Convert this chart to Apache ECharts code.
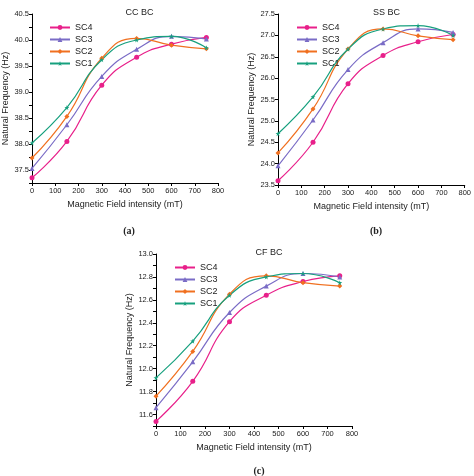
<!DOCTYPE html>
<html><head><meta charset="utf-8">
<script src="https://cdn.jsdelivr.net/npm/echarts@6/dist/echarts.min.js"></script>
<style>html,body{margin:0;background:#fff}#myChart{width:474px;height:476px}</style>
</head><body><div id="myChart"></div>
<script>
const field = [0, 150, 300, 450, 600, 750]
const seriesNames = ['SC4', 'SC3', 'SC2', 'SC1']
// CC BC
const ccSC4 = [37.35, 38.05, 39.13, 39.67, 39.92, 40.05]
const ccSC3 = [37.53, 38.37, 39.30, 39.82, 40.07, 40.02]
const ccSC2 = [37.73, 38.53, 39.65, 40.03, 39.90, 39.83]
const ccSC1 = [38.02, 38.70, 39.62, 40.00, 40.07, 39.85]
// SS BC
const ssSC4 = [23.60, 24.50, 25.87, 26.53, 26.85, 27.02]
const ssSC3 = [23.95, 25.02, 26.20, 26.83, 27.15, 27.07]
const ssSC2 = [24.25, 25.28, 26.68, 27.15, 26.99, 26.90]
const ssSC1 = [24.70, 25.56, 26.68, 27.15, 27.23, 27.00]
// CF BC
const cfSC4 = [11.54, 11.89, 12.41, 12.64, 12.76, 12.81]
const cfSC3 = [11.66, 12.06, 12.49, 12.72, 12.83, 12.80]
const cfSC2 = [11.76, 12.15, 12.65, 12.81, 12.75, 12.72]
const cfSC1 = [11.92, 12.24, 12.64, 12.80, 12.83, 12.75]

const colors = ['#e8208a', '#7a6cc6', '#f07020', '#17a07e']
const symbols = ['circle', 'triangle', 'diamond',
  'path://M50,0 L61,35 L98,35 L68,57 L79,91 L50,70 L21,91 L32,57 L2,35 L39,35 Z']
const panels = [
  { data: [ccSC4, ccSC3, ccSC2, ccSC1], min: 37.25, max: 40.5, step: 0.25, show: 0.5, dec: 1,
    grid: { left: 31, top: 14, width: 187, height: 169 }, title: 'CC BC', cap: '(a)', capX: 124, capY: 221 },
  { data: [ssSC4, ssSC3, ssSC2, ssSC1], min: 23.5, max: 27.5, step: 0.5, show: 0.5, dec: 1,
    grid: { left: 278, top: 14, width: 187, height: 171 }, title: 'SS BC', cap: '(b)', capX: 371, capY: 221 },
  { data: [cfSC4, cfSC3, cfSC2, cfSC1], min: 11.5, max: 13.0, step: 0.1, show: 0.2, dec: 1,
    grid: { left: 156, top: 254, width: 196, height: 172 }, title: 'CF BC', cap: '(c)', capX: 254, capY: 461 }
]

let myChart = echarts.init(document.getElementById('myChart'))
const font = 'Liberation Sans'
const option = { animation: false, textStyle: { fontFamily: font }, grid: [], xAxis: [], yAxis: [], series: [], legend: [], title: [] }
panels.forEach((p, i) => {
  option.grid.push(p.grid)
  option.xAxis.push({ type: 'value', gridIndex: i, min: 0, max: 800, interval: 100,
    name: 'Magnetic Field intensity (mT)', nameLocation: 'middle', nameGap: 17,
    nameTextStyle: { fontSize: 9, color: '#222' },
    axisLine: { lineStyle: { color: '#000' } }, axisTick: { length: 3, lineStyle: { color: '#000' } },
    axisLabel: { fontSize: 7.5, color: '#222', margin: 4 }, splitLine: { show: false } })
  option.yAxis.push({ type: 'value', gridIndex: i, min: p.min, max: p.max, interval: p.step,
    name: 'Natural Frequency (Hz)', nameLocation: 'middle', nameGap: 22,
    nameTextStyle: { fontSize: 9, color: '#222' },
    axisLine: { show: true, lineStyle: { color: '#000' } }, axisTick: { length: 3, lineStyle: { color: '#000' } },
    axisLabel: { fontSize: 7.5, color: '#222', margin: 3,
      formatter: v => (Math.abs(v / p.show - Math.round(v / p.show)) < 1e-6) ? v.toFixed(p.dec) : '' },
    splitLine: { show: false } })
  option.title.push({ text: p.title, left: p.grid.left + p.grid.width / 2 + 10, top: p.grid.top - 11,
    textAlign: 'center', textStyle: { fontSize: 9, fontWeight: 'normal', color: '#222' } })
  option.title.push({ text: p.cap, left: p.capX, top: p.capY, textAlign: 'center',
    textStyle: { fontSize: 10, fontWeight: 'bold', color: '#222', fontFamily: 'Liberation Serif' } })
  option.legend.push({ orient: 'vertical', left: p.grid.left + 13, top: p.grid.top + 4, itemGap: 3,
    itemWidth: 20, itemHeight: 6, data: seriesNames, textStyle: { fontSize: 9, color: '#222' } })
  p.data.forEach((vals, k) => {
    option.series.push({ name: seriesNames[k], type: 'line', smooth: true, xAxisIndex: i, yAxisIndex: i,
      data: field.map((x, j) => [x, vals[j]]), symbol: symbols[k], symbolSize: 5,
      itemStyle: { color: colors[k] }, lineStyle: { width: 1.2, color: colors[k] } })
  })
})
myChart.setOption(option)
</script></body></html>
